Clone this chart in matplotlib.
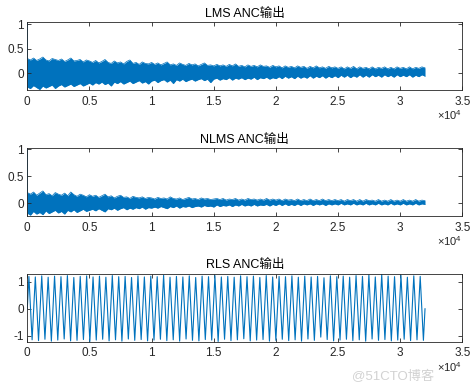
import numpy as np
import matplotlib
matplotlib.use("Agg")
import matplotlib.pyplot as plt
from matplotlib.ticker import FixedLocator, FuncFormatter

plt.rcParams['font.family'] = ['Liberation Sans', 'Noto Sans CJK SC', 'DejaVu Sans']
plt.rcParams['mathtext.fontset'] = 'custom'
plt.rcParams['mathtext.rm'] = 'Liberation Sans'
plt.rcParams['mathtext.it'] = 'Liberation Sans'

# ---------------- data ----------------
titles = ["LMS ANC输出", "NLMS ANC输出", "RLS ANC输出"]
n_samples = 32000
env_step = 250          # envelope values every 250 samples
first_sample = [1.0, 1.0]   # initial spike of LMS / NLMS output

lms_upper = [
    0.30, 0.27, 0.31, 0.26, 0.29, 0.33, 0.27, 0.25, 0.30, 0.28, 0.26, 0.29, 0.24, 0.27, 0.31, 0.25, 0.26, 0.28, 0.23, 0.27, 0.25,
    0.22, 0.26, 0.21, 0.24, 0.28, 0.22, 0.20, 0.25, 0.21, 0.23, 0.19, 0.24, 0.27, 0.20, 0.22, 0.18, 0.23, 0.20, 0.19, 0.22,
    0.18, 0.21, 0.17, 0.20, 0.23, 0.17, 0.19, 0.16, 0.21, 0.18, 0.16, 0.20, 0.17, 0.19, 0.15, 0.18, 0.21, 0.16, 0.17, 0.15,
    0.18, 0.15, 0.17, 0.14, 0.18, 0.15, 0.19, 0.14, 0.16, 0.13, 0.17, 0.14, 0.16, 0.13, 0.17, 0.14, 0.15, 0.12, 0.16, 0.13,
    0.15, 0.11, 0.15, 0.12, 0.14, 0.11, 0.15, 0.12, 0.14, 0.10, 0.14, 0.11, 0.15, 0.11, 0.13, 0.10, 0.14, 0.11, 0.13, 0.10,
    0.13, 0.09, 0.13, 0.10, 0.14, 0.09, 0.13, 0.10, 0.12, 0.09, 0.13, 0.09, 0.12, 0.10, 0.13, 0.09, 0.12, 0.09, 0.13, 0.10,
    0.12, 0.09, 0.13, 0.09, 0.12, 0.10, 0.13, 0.11]
lms_lower = [
    -0.28, -0.31, -0.25, -0.29, -0.33, -0.26, -0.30, -0.27, -0.24, -0.31, -0.26, -0.23, -0.28, -0.25, -0.22, -0.27, -0.24, -0.21, -0.26, -0.23, -0.20,
    -0.24, -0.19, -0.22, -0.18, -0.23, -0.20, -0.26, -0.18, -0.21, -0.17, -0.22, -0.19, -0.16, -0.21, -0.18, -0.15, -0.20, -0.17, -0.22, -0.16,
    -0.14, -0.19, -0.15, -0.13, -0.18, -0.14, -0.21, -0.13, -0.16, -0.12, -0.17, -0.14, -0.12, -0.16, -0.13, -0.11, -0.15, -0.12, -0.19, -0.12,
    -0.10, -0.14, -0.11, -0.13, -0.09, -0.14, -0.10, -0.12, -0.09, -0.13, -0.10, -0.12, -0.08, -0.13, -0.09, -0.11, -0.08, -0.12, -0.09, -0.11,
    -0.07, -0.11, -0.06, -0.10, -0.07, -0.11, -0.06, -0.10, -0.07, -0.10, -0.05, -0.10, -0.06, -0.09, -0.05, -0.10, -0.06, -0.09, -0.05, -0.09,
    -0.04, -0.08, -0.04, -0.09, -0.05, -0.08, -0.03, -0.08, -0.04, -0.08, -0.03, -0.07, -0.04, -0.08, -0.03, -0.07, -0.04, -0.08, -0.03, -0.07,
    -0.04, -0.07, -0.03, -0.08, -0.04, -0.07, -0.03, -0.06]

nlms_upper = [
    0.20, 0.17, 0.21, 0.15, 0.19, 0.23, 0.16, 0.18, 0.14, 0.20, 0.17, 0.15, 0.19, 0.14, 0.21, 0.16, 0.13, 0.17, 0.15, 0.12, 0.16,
    0.13, 0.15, 0.11, 0.14, 0.17, 0.12, 0.14, 0.10, 0.13, 0.15, 0.11, 0.12, 0.09, 0.13, 0.11, 0.10, 0.12, 0.09, 0.11, 0.10,
    0.08, 0.11, 0.09, 0.10, 0.08, 0.12, 0.09, 0.08, 0.10, 0.07, 0.09, 0.11, 0.08, 0.09, 0.07, 0.10, 0.08, 0.09, 0.07, 0.08,
    0.09, 0.07, 0.09, 0.06, 0.08, 0.07, 0.09, 0.06, 0.08, 0.06, 0.09, 0.07, 0.08, 0.06, 0.08, 0.06, 0.09, 0.06, 0.08, 0.06,
    0.08, 0.05, 0.08, 0.06, 0.07, 0.05, 0.08, 0.05, 0.07, 0.05, 0.08, 0.05, 0.07, 0.05, 0.08, 0.05, 0.07, 0.05, 0.07, 0.05,
    0.07, 0.04, 0.07, 0.05, 0.07, 0.04, 0.07, 0.04, 0.07, 0.05, 0.06, 0.04, 0.07, 0.04, 0.06, 0.04, 0.07, 0.04, 0.06, 0.04,
    0.07, 0.04, 0.06, 0.04, 0.07, 0.04, 0.06, 0.05]
nlms_lower = [
    -0.18, -0.22, -0.15, -0.20, -0.17, -0.21, -0.14, -0.19, -0.16, -0.13, -0.18, -0.15, -0.20, -0.13, -0.16, -0.12, -0.17, -0.14, -0.11, -0.15, -0.13,
    -0.11, -0.14, -0.10, -0.13, -0.16, -0.10, -0.12, -0.09, -0.13, -0.10, -0.08, -0.12, -0.09, -0.11, -0.08, -0.10, -0.07, -0.11, -0.08, -0.09,
    -0.07, -0.09, -0.06, -0.08, -0.10, -0.06, -0.08, -0.05, -0.09, -0.06, -0.07, -0.05, -0.08, -0.06, -0.05, -0.07, -0.04, -0.06, -0.05, -0.07,
    -0.03, -0.06, -0.04, -0.05, -0.03, -0.06, -0.03, -0.05, -0.02, -0.05, -0.03, -0.05, -0.02, -0.05, -0.03, -0.04, -0.02, -0.05, -0.02, -0.04,
    -0.01, -0.04, -0.01, -0.04, -0.02, -0.04, -0.01, -0.04, -0.01, -0.03, -0.01, -0.04, -0.01, -0.03, -0.01, -0.04, -0.01, -0.03, -0.01, -0.03,
    0.00, -0.03, -0.01, -0.03, 0.00, -0.03, -0.01, -0.03, 0.00, -0.03, -0.01, -0.03, 0.00, -0.03, -0.01, -0.03, 0.00, -0.03, -0.01, -0.03,
    0.00, -0.03, -0.01, -0.03, 0.00, -0.03, -0.01, -0.02]

rls_peaks = [
    1.20, 1.18, 1.22, 1.17, 1.21, 1.19, 1.23, 1.16, 1.20, 1.22,
    1.18, 1.21, 1.17, 1.23, 1.19, 1.20, 1.16, 1.22, 1.18, 1.21,
    1.19, 1.24, 1.17, 1.20, 1.18, 1.22, 1.16, 1.21, 1.19, 1.23,
    1.18, 1.20, 1.17, 1.22, 1.19, 1.21, 1.16, 1.23, 1.18, 1.20,
    1.19, 1.22, 1.17, 1.21, 1.18, 1.20, 1.15, 1.22, 1.19, 1.21,
    1.17, 1.23, 1.20, 1.26, 1.18, 1.27, 1.21, 1.19, 1.24, 1.17,
    1.22, 1.20]
rls_troughs = [
    -1.15, -1.18, -1.13, -1.20, -1.16, -1.12, -1.19, -1.17, -1.14, -1.21,
    -1.16, -1.13, -1.19, -1.15, -1.20, -1.12, -1.17, -1.14, -1.19, -1.16,
    -1.13, -1.18, -1.15, -1.20, -1.12, -1.17, -1.19, -1.14, -1.16, -1.21,
    -1.13, -1.18, -1.15, -1.11, -1.19, -1.16, -1.14, -1.20, -1.17, -1.13,
    -1.18, -1.15, -1.20, -1.12, -1.17, -1.05, -1.14, -1.19, -1.16, -1.13,
    -1.18, -1.15, -1.20, -1.12, -1.17, -1.14, -1.19, -1.16, -1.13, -1.18,
    -1.15, -1.17]

xtick_vals = [0, 5000, 10000, 15000, 20000, 25000, 30000, 35000]
ytick_sets = [[0, 0.5, 1], [0, 0.5, 1], [-1, 0, 1]]
ylims = [(-0.34, 1.035), (-0.235, 1.02), (-1.22, 1.30)]

# ---------------- styling ----------------
line_color = '#0072BD'
axis_color = '#262626'
W, H = 474, 384
fig = plt.figure(figsize=(W / 100, H / 100), dpi=100)
fig.patch.set_facecolor('white')

# axes rectangles in pixels (left, top, right, bottom)
boxes = [(27.3, 22.3, 462.3, 90.0), (27.3, 148.3, 462.3, 216.0), (27.3, 273.7, 462.3, 341.7)]
axes = []
for (l, t, r, b) in boxes:
    ax = fig.add_axes([l / W, 1 - b / H, (r - l) / W, (b - t) / H])
    axes.append(ax)

env_x = np.arange(len(lms_upper)) * env_step

for i, (ax, up, lo) in enumerate(zip(axes[:2], [lms_upper, nlms_upper], [lms_lower, nlms_lower])):
    ax.fill_between(env_x, lo, up, color=line_color, linewidth=0)
    ax.plot(env_x, up, color=line_color, lw=0.5)
    ax.plot(env_x, lo, color=line_color, lw=0.5)
    ax.plot([0, 0], [lo[0], first_sample[i]], color=line_color, lw=1.2)

# RLS: oscillation drawn through its peaks and troughs
n_cyc = len(rls_peaks)
period = n_samples / n_cyc
rx = [0.0]
ry = [0.0]
for k in range(n_cyc):
    rx += [(k + 0.25) * period, (k + 0.75) * period]
    ry += [rls_peaks[k], rls_troughs[k]]
rx.append(float(n_samples))
ry.append(0.0)
axes[2].plot(rx, ry, color=line_color, lw=0.8)

for i, ax in enumerate(axes):
    ax.set_xlim(0, 35000)
    ax.set_ylim(*ylims[i])
    ax.xaxis.set_major_locator(FixedLocator(xtick_vals))
    ax.xaxis.set_major_formatter(FuncFormatter(lambda v, p: ('%g' % (v / 1e4))))
    ax.yaxis.set_major_locator(FixedLocator(ytick_sets[i]))
    ax.yaxis.set_major_formatter(FuncFormatter(lambda v, p: '%g' % v))
    ax.tick_params(direction='in', length=3, width=0.6, top=True, right=True,
                   colors=axis_color, labelsize=8.5, pad=2.5)
    ax.tick_params(axis='x', pad=4)
    for s in ax.spines.values():
        s.set_color(axis_color)
        s.set_linewidth(0.6)
    ax.set_title(titles[i], fontsize=9, color='black', pad=4)
    ax.annotate(r'$\times10^{4}$', xy=(1, 0), xycoords='axes fraction',
                xytext=(0, -30 * 0.72), textcoords='offset points',
                ha='right', va='baseline', fontsize=8, color=axis_color)

fig.text(434 / W, 1 - 380 / H, '@51CTO博客', fontsize=9.5, color='#d2d2d2',
         ha='right', va='baseline')

fig.savefig('out.png', dpi=100, facecolor='white')
